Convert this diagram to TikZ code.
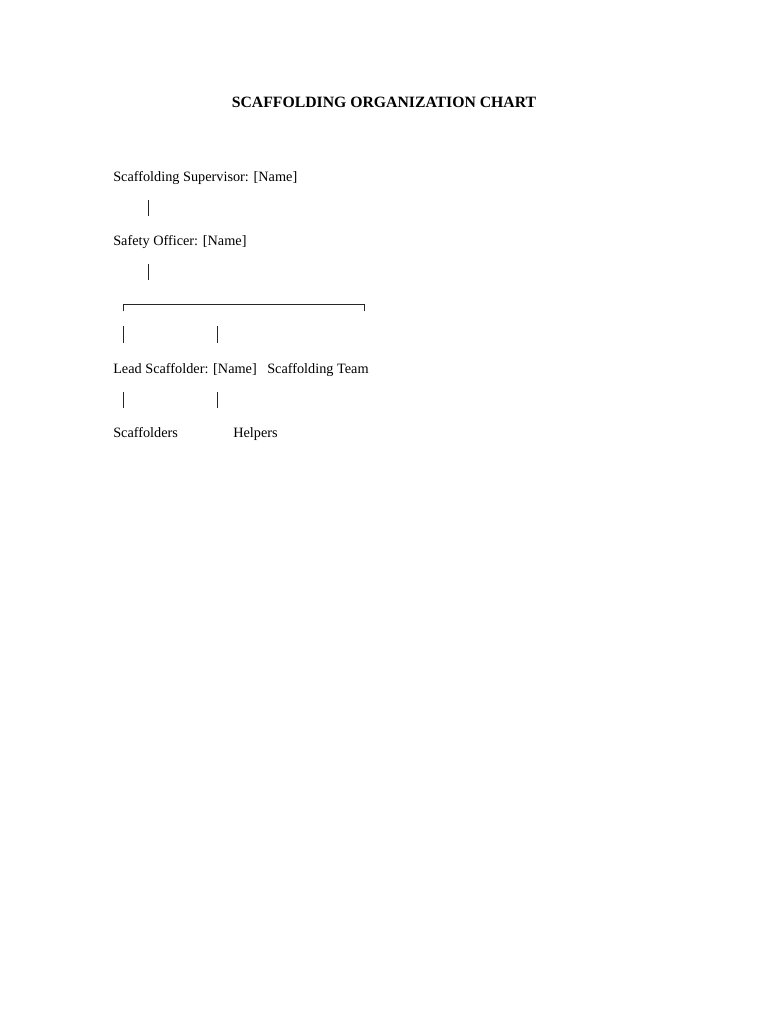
\documentclass[tikz,border=0pt]{standalone}
\usepackage{fontspec}
\setmainfont{Liberation Serif}
\usepackage{tikz}
\usetikzlibrary{positioning,calc}

\tikzset{lbl/.style={anchor=base west,inner sep=0pt,font=\fontsize{10.7}{12}\selectfont},
         bar/.style={line width=0.7pt,black!85}}

\begin{document}
\begin{tikzpicture}[x=0.75pt,y=-0.75pt]
  \useasboundingbox[fill=white] (0,0) rectangle (768,1024);
  \node[anchor=base,inner sep=0pt,font=\fontsize{11.8}{14}\selectfont\bfseries] (title) at (384,108) {SCAFFOLDING ORGANIZATION CHART};
  \node[lbl] (sup) at (113,181) {Scaffolding Supervisor: [Name]};
  \node[lbl] (saf) at (113,245) {Safety Officer: [Name]};
  \node[lbl] (lead) at (113,373) {Lead Scaffolder: [Name]};
  \node[lbl] (team) at (267,373) {Scaffolding Team};
  \node[lbl] (scf) at (113,437) {Scaffolders};
  \node[lbl] (help) at (233,437) {Helpers};
  % bars
  \coordinate (a1) at (148,200); \coordinate (a2) at (148,216);
  \coordinate (b1) at (148,264); \coordinate (b2) at (148,280);
  \draw[bar](a1)--(a2);
  \draw[bar](b1)--(b2);
  % bracket
  \coordinate (bl) at (123,304); \coordinate (br) at (364,304);
  \draw[bar,line width=0.6pt]($(bl)+(0,7)$)--(bl)--(br)--($(br)+(0,7)$);
  \coordinate (c1) at (123,326); \coordinate (c2) at (123,343);
  \coordinate (d1) at (217,326); \coordinate (d2) at (217,343);
  \draw[bar](c1)--(c2);
  \draw[bar](d1)--(d2);
  \coordinate (e1) at (123,392); \coordinate (e2) at (123,408);
  \coordinate (f1) at (217,392); \coordinate (f2) at (217,408);
  \draw[bar](e1)--(e2);
  \draw[bar](f1)--(f2);
\end{tikzpicture}
\end{document}
